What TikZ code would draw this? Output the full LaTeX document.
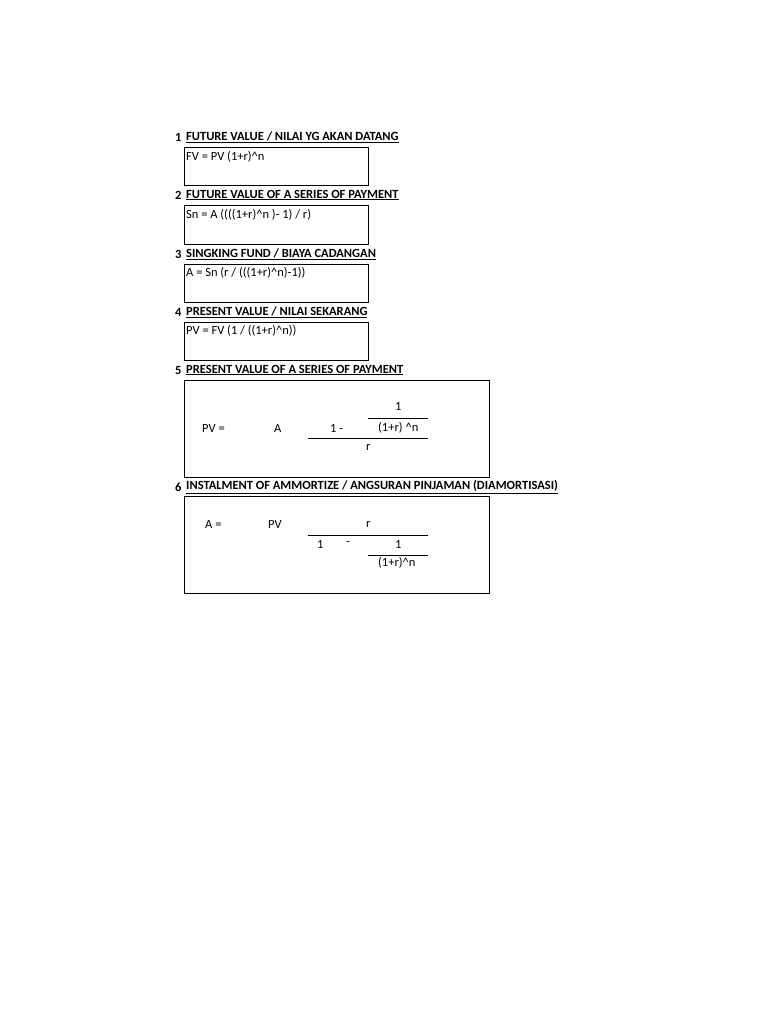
\documentclass[tikz,border=0pt]{standalone}
\usepackage{fontspec}
\setmainfont{Carlito}
\begin{document}
\begin{tikzpicture}[x=1pt,y=-1pt,
  t/.style={anchor=west,inner sep=0pt,font=\fontsize{12.5}{14}\selectfont},
  h/.style={t,font=\fontsize{12.5}{14}\selectfont\bfseries},
  bx/.style={draw=black,line width=0.8pt},
  fl/.style={line width=0.8pt}]
\useasboundingbox (0,0) rectangle (768,1024);
% 1
\node[h] (n1) at (175,137) {1};
\node[h] (h1) at (186,137) {\underline{FUTURE VALUE / NILAI YG AKAN DATANG}};
\draw[bx] (184,147) rectangle (368,185);
\node[t] (f1) at (186,157) {FV = PV (1+r)\^{}n};
% 2
\node[h] (n2) at (175,195) {2};
\node[h] (h2) at (186,195) {\underline{FUTURE VALUE OF A SERIES OF PAYMENT}};
\draw[bx] (184,205) rectangle (368,244);
\node[t] (f2) at (186,215) {Sn = A ((((1+r)\^{}n )- 1) / r)};
% 3
\node[h] (n3) at (175,254) {3};
\node[h] (h3) at (186,254) {\underline{SINGKING FUND / BIAYA CADANGAN}};
\draw[bx] (184,264) rectangle (368,302);
\node[t] (f3) at (186,273) {A = Sn (r / (((1+r)\^{}n)-1))};
% 4
\node[h] (n4) at (175,312) {4};
\node[h] (h4) at (186,312) {\underline{PRESENT VALUE / NILAI SEKARANG}};
\draw[bx] (184,322) rectangle (368,360);
\node[t] (f4) at (186,331) {PV = FV (1 / ((1+r)\^{}n))};
% 5
\node[h] (n5) at (175,370) {5};
\node[h] (h5) at (186,370) {\underline{PRESENT VALUE OF A SERIES OF PAYMENT}};
\draw[bx] (184,380) rectangle (489,477);
\node[t] (p5a) at (202,428) {PV =};
\node[t] (p5b) at (274,428) {A};
\node[t] (p5c) at (330,428) {1 -};
\node[t] (p5d) at (395,406) {1};
\draw[fl] (368,418) -- (428,418);
\node[t] (p5e) at (378,428) {(1+r) \^{}n};
\draw[fl] (308,438) -- (428,438);
\node[t] (p5f) at (366,447) {r};
% 6
\node[h] (n6) at (175,487) {6};
\node[h] (h6) at (186,487) {\underline{INSTALMENT OF AMMORTIZE / ANGSURAN PINJAMAN (DIAMORTISASI)}};
\draw[bx] (184,496) rectangle (489,593);
\node[t] (p6a) at (205,524) {A =};
\node[t] (p6b) at (268,524) {PV};
\node[t] (p6c) at (366,524) {r};
\draw[fl] (308,535) -- (428,535);
\node[t] (p6d) at (317,544) {1};
\node[t] (p6e) at (346,544) {-};
\node[t] (p6f) at (395,544) {1};
\draw[fl] (368,555) -- (428,555);
\node[t] (p6g) at (378,563) {(1+r)\^{}n};
\end{tikzpicture}
\end{document}
